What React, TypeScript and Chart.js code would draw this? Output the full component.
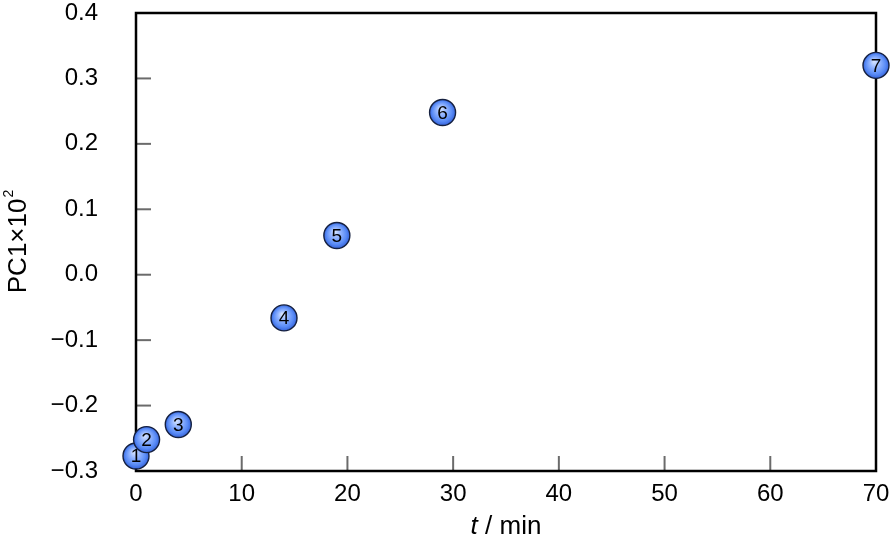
import React, { useEffect, useRef } from "react";
import { Chart, registerables } from "chart.js";

Chart.register(...registerables);

const pointLabels = ["1", "2", "3", "4", "5", "6", "7"];
const timeMin = [0, 1, 4, 14, 19, 29, 70];
const pc1 = [-0.277, -0.252, -0.229, -0.066, 0.06, 0.248, 0.32];

const xTickValues = [0, 10, 20, 30, 40, 50, 60, 70];
const xTickLabels = ["0", "10", "20", "30", "40", "50", "60", "70"];
const yTickValues = [-0.3, -0.2, -0.1, 0, 0.1, 0.2, 0.3, 0.4];
const yTickLabels = ["\u22120.3", "\u22120.2", "\u22120.1", "0.0", "0.1", "0.2", "0.3", "0.4"];

const FONT = "'Liberation Sans', Arial, sans-serif";

const framePlugin = {
  id: "framePlugin",
  beforeDatasetsDraw(chart: any) {
    const { ctx, chartArea } = chart;
    const { left, right, top, bottom } = chartArea;
    const xs = chart.scales.x;
    const ys = chart.scales.y;
    ctx.save();
    ctx.strokeStyle = "#6b6b6b";
    ctx.lineWidth = 2;
    const tl = 15;
    xTickValues.forEach((v) => {
      const px = xs.getPixelForValue(v);
      ctx.beginPath();
      ctx.moveTo(px, bottom);
      ctx.lineTo(px, bottom - tl);
      ctx.stroke();
    });
    yTickValues.forEach((v) => {
      const py = ys.getPixelForValue(v);
      ctx.beginPath();
      ctx.moveTo(left, py);
      ctx.lineTo(left + tl, py);
      ctx.stroke();
    });
    ctx.strokeStyle = "#000";
    ctx.lineWidth = 2.5;
    ctx.strokeRect(left, top, right - left, bottom - top);
    ctx.restore();
  },
  afterDatasetsDraw(chart: any) {
    const { ctx } = chart;
    const meta = chart.getDatasetMeta(0);
    ctx.save();
    meta.data.forEach((el: any, i: number) => {
      const x = el.x;
      const y = el.y;
      const r = 13;
      const g = ctx.createRadialGradient(x - r * 0.15, y - r * 0.3, r * 0.05, x, y, r);
      g.addColorStop(0, "#d2e1ff");
      g.addColorStop(0.35, "#93b5ff");
      g.addColorStop(0.75, "#5a8cf6");
      g.addColorStop(1, "#3664dc");
      ctx.beginPath();
      ctx.arc(x, y, r, 0, Math.PI * 2);
      ctx.fillStyle = g;
      ctx.fill();
      ctx.lineWidth = 1.4;
      ctx.strokeStyle = "#15203f";
      ctx.stroke();
      ctx.fillStyle = "#000";
      ctx.font = `19px ${FONT}`;
      ctx.textAlign = "center";
      ctx.textBaseline = "middle";
      ctx.fillText(pointLabels[i], x, y + 1);
    });
    ctx.restore();
  },
  afterDraw(chart: any) {
    const { ctx, chartArea } = chart;
    ctx.save();
    ctx.fillStyle = "#000";
    const cx = (chartArea.left + chartArea.right) / 2;
    const baseY = 534;
    ctx.textBaseline = "alphabetic";
    ctx.textAlign = "left";
    ctx.font = `italic 26px ${FONT}`;
    const tW = ctx.measureText("t").width;
    ctx.font = `26px ${FONT}`;
    const restW = ctx.measureText(" / min").width;
    const sx = cx - (tW + restW) / 2;
    ctx.font = `italic 26px ${FONT}`;
    ctx.fillText("t", sx, baseY);
    ctx.font = `26px ${FONT}`;
    ctx.fillText(" / min", sx + tW, baseY);

    const cy = (chartArea.top + chartArea.bottom) / 2;
    ctx.translate(26, cy);
    ctx.rotate(-Math.PI / 2);
    ctx.font = `26px ${FONT}`;
    const mainW = ctx.measureText("PC1\u00d710").width;
    ctx.font = `14px ${FONT}`;
    const supW = ctx.measureText("2").width;
    const start = -(mainW + supW) / 2;
    ctx.font = `26px ${FONT}`;
    ctx.fillText("PC1\u00d710", start, 0);
    ctx.font = `14px ${FONT}`;
    ctx.fillText("2", start + mainW + 1, -13);
    ctx.restore();
  },
};

export default function App() {
  const ref = useRef<HTMLCanvasElement | null>(null);
  useEffect(() => {
    if (!ref.current) return;
    const chart = new Chart(ref.current, {
      type: "scatter",
      data: {
        datasets: [
          {
            data: timeMin.map((t, i) => ({ x: t, y: pc1[i] })),
            pointRadius: 13,
            pointBackgroundColor: "rgba(0,0,0,0)",
            pointBorderWidth: 0,
            pointBorderColor: "rgba(0,0,0,0)",
            clip: false as any,
          },
        ],
      },
      options: {
        animation: false,
        responsive: true,
        maintainAspectRatio: false,
        events: [],
        layout: { padding: { top: 8, right: 17, left: 0, bottom: 0 } },
        plugins: { legend: { display: false }, tooltip: { enabled: false } },
        scales: {
          x: {
            type: "linear",
            min: 0,
            max: 70,
            afterBuildTicks: (scale: any) => {
              scale.ticks = xTickValues.map((v) => ({ value: v }));
            },
            afterFit: (scale: any) => {
              scale.height = 70;
              scale.paddingLeft = 0;
              scale.paddingRight = 0;
            },
            ticks: {
              callback: (_v: any, i: number) => xTickLabels[i],
              font: { family: FONT, size: 24 },
              color: "#000",
              padding: 9,
              maxRotation: 0,
            },
            grid: { display: false, drawTicks: false },
            border: { display: false },
          },
          y: {
            type: "linear",
            min: -0.3,
            max: 0.4,
            afterBuildTicks: (scale: any) => {
              scale.ticks = yTickValues.map((v) => ({ value: v }));
            },
            afterFit: (scale: any) => {
              scale.width = 136;
              scale.paddingTop = 0;
              scale.paddingBottom = 0;
            },
            ticks: {
              callback: (_v: any, i: number) => yTickLabels[i],
              font: { family: FONT, size: 24 },
              color: "#000",
              padding: 38,
            },
            grid: { display: false, drawTicks: false },
            border: { display: false },
          },
        },
      },
      plugins: [framePlugin],
    });
    return () => chart.destroy();
  }, []);
  return (
    <div style={{ position: "fixed", left: 0, top: 0, width: 893, height: 541, background: "#fff" }}>
      <canvas ref={ref} />
    </div>
  );
}
